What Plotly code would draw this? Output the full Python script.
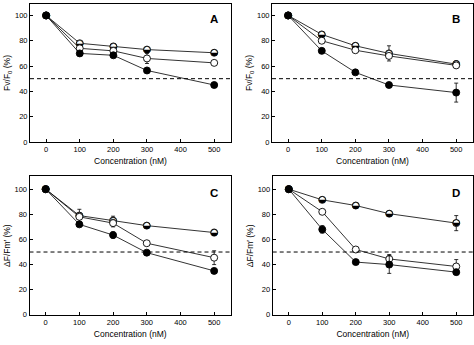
import plotly.graph_objects as go

conc = [0, 100, 200, 300, 500]
x_ticks = [0, 100, 200, 300, 400, 500]
y_ticks = [0, 20, 40, 60, 80, 100]
threshold = 50

# Panel A
a_filled = [100, 70, 68.5, 56.5, 45]
a_filled_err = [0, 1.5, 1.5, 1.5, 1]
a_open = [100, 74, 72, 66, 62.5]
a_open_err = [0, 1.5, 1.5, 4, 1.5]
a_half = [100, 78, 75.5, 73, 70.5]
a_half_err = [0, 1.5, 1, 1, 1]

# Panel B
b_filled = [100, 72, 55, 45, 39]
b_filled_err = [0, 1.5, 1, 1, 7.5]
b_open = [100, 80, 72.5, 68, 60.5]
b_open_err = [0, 2, 1.5, 2, 2]
b_half = [100, 85, 76, 70, 61.5]
b_half_err = [0, 1.5, 1.5, 6, 2.5]

# Panel C
c_filled = [100, 72, 63.5, 49.5, 35]
c_filled_err = [0, 1.5, 2.5, 1, 1]
c_open = [100, 78, 73, 57, 45.5]
c_open_err = [0, 2, 3, 1, 5.5]
c_half = [100, 79, 75, 71, 65.5]
c_half_err = [0, 5, 3.5, 1, 2.5]

# Panel D
d_filled = [100, 68, 42, 40, 34]
d_filled_err = [0, 3, 1.5, 7, 1]
d_open = [100, 82, 52, 44.5, 38.5]
d_open_err = [0, 1.5, 1, 3.5, 5.5]
d_half = [100, 91.5, 87, 80.5, 73]
d_half_err = [0, 2, 2, 2, 6]

panel_letters = ["A", "B", "C", "D"]
y_titles = ["Fv/F<sub>0</sub> (%)", "Fv/F<sub>0</sub> (%)",
            "ΔF/Fm′ (%)", "ΔF/Fm′ (%)"]
x_title = "Concentration (nM)"

panels = [
    (a_filled, a_filled_err, a_open, a_open_err, a_half, a_half_err),
    (b_filled, b_filled_err, b_open, b_open_err, b_half, b_half_err),
    (c_filled, c_filled_err, c_open, c_open_err, c_half, c_half_err),
    (d_filled, d_filled_err, d_open, d_open_err, d_half, d_half_err),
]

W, H = 474, 345
# plot-area boxes in pixels: (left, right, top, bottom)
boxes = [(30, 231, 4, 144), (272, 473, 4, 144),
         (29.5, 231, 178.7, 319.5), (272.7, 473, 178.7, 319.5)]
y_ranges = [[0, 109.1], [0, 109.1], [0, 110.4], [0, 110.4]]

FONT = "Liberation Sans, Arial, sans-serif"
fig = go.Figure()


def err(arr):
    return dict(type="data", array=arr, color="black", thickness=0.8, width=2)


for i, (f, fe, o, oe, h, he) in enumerate(panels):
    xa = "x" if i == 0 else f"x{i + 1}"
    ya = "y" if i == 0 else f"y{i + 1}"
    line = dict(color="black", width=0.8)
    # half-filled series
    fig.add_trace(go.Scatter(
        x=conc, y=h, mode="lines+markers", xaxis=xa, yaxis=ya,
        line=line, error_y=err(he),
        marker=dict(symbol="circle", size=7, color="white",
                    line=dict(color="black", width=0.9)),
        showlegend=False))
    fig.add_trace(go.Scatter(
        x=conc, y=h, mode="text", xaxis=xa, yaxis=ya,
        text=["◒"] * len(conc), textposition="middle center",
        textfont=dict(family="DejaVu Sans", size=9, color="black"),
        showlegend=False, hoverinfo="skip"))
    # open series
    fig.add_trace(go.Scatter(
        x=conc, y=o, mode="lines+markers", xaxis=xa, yaxis=ya,
        line=line, error_y=err(oe),
        marker=dict(symbol="circle", size=7, color="white",
                    line=dict(color="black", width=0.9)),
        showlegend=False))
    # filled series
    fig.add_trace(go.Scatter(
        x=conc, y=f, mode="lines+markers", xaxis=xa, yaxis=ya,
        line=line, error_y=err(fe),
        marker=dict(symbol="circle", size=7, color="black",
                    line=dict(color="black", width=0.9)),
        showlegend=False))
    # 50 % reference line
    fig.add_trace(go.Scatter(
        x=[-48, 550], y=[threshold, threshold], mode="lines",
        xaxis=xa, yaxis=ya,
        line=dict(color="black", width=1, dash="4px,3px"),
        showlegend=False, hoverinfo="skip"))

layout = dict(
    width=W, height=H,
    margin=dict(l=0, r=0, t=0, b=0),
    paper_bgcolor="white", plot_bgcolor="white",
    font=dict(family=FONT, color="black", size=7.5),
)

annotations = []
for i, (l, r, t, b) in enumerate(boxes):
    sfx = "" if i == 0 else str(i + 1)
    axis_common = dict(showline=True, linecolor="black", linewidth=1,
                       mirror=True, ticks="inside", ticklen=3,
                       tickwidth=0.8, tickcolor="black", showgrid=False,
                       zeroline=False, tickfont=dict(size=7.5))
    layout["xaxis" + sfx] = dict(
        axis_common, domain=[l / W, r / W], range=[-48, 550],
        tickvals=x_ticks, anchor="y" + sfx,
        title=dict(text=x_title, font=dict(size=8.5), standoff=5))
    layout["yaxis" + sfx] = dict(
        axis_common, domain=[1 - b / H, 1 - t / H], range=y_ranges[i],
        tickvals=y_ticks, anchor="x" + sfx)
    annotations.append(dict(
        text=panel_letters[i], xref="x" + sfx, yref="y" + sfx,
        x=500, y=97, showarrow=False,
        font=dict(size=11.5, family=FONT, color="black", weight="bold")))
    annotations.append(dict(
        text=y_titles[i], xref="paper", yref="paper",
        x=(l - 22) / W, y=1 - (t + b) / 2 / H, textangle=-90,
        showarrow=False, xanchor="center", yanchor="middle",
        font=dict(size=8.5, family=FONT, color="black")))

layout["annotations"] = annotations
fig.update_layout(**layout)
fig.write_html("out.html")
